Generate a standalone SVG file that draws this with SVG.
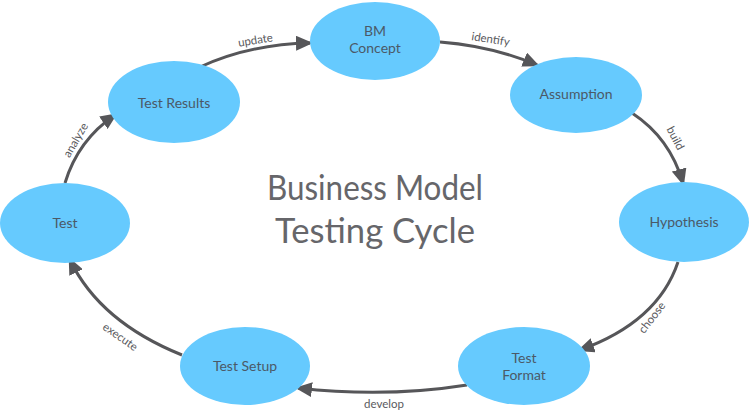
<svg xmlns="http://www.w3.org/2000/svg" width="750" height="419" viewBox="0 0 750 419">
<style>
.node ellipse{fill:#66CAFE;}
.node text{font-family:Lato,"Open Sans",sans-serif;font-size:14px;fill:#4B5967;text-anchor:middle;}
.conn path{fill:none;stroke:#565659;stroke-width:3;marker-end:url(#ah);}
.lbl{font-family:Lato,"Open Sans",sans-serif;font-size:11.5px;fill:#5A5A5E;text-anchor:middle;}
.title{font-family:Lato,"Open Sans",sans-serif;font-size:35px;fill:#66666A;text-anchor:middle;}
</style>
<defs>
<marker id="ah" markerUnits="userSpaceOnUse" markerWidth="17" markerHeight="15" refX="14" refY="7.5" orient="auto">
<path d="M0,0 L17,7.5 L0,15 z" fill="#565659"/>
</marker>
</defs>
<rect width="750" height="419" fill="#ffffff"/>
<g id="connectors" class="conn">
<path d="M200,67 Q250,44 310,43"/>
<path d="M440,42 Q492,46 537,65"/>
<path d="M632,113 Q670,138 683,183"/>
<path d="M678,262 Q658,322 580,350"/>
<path d="M467,385 Q385,398 298,388"/>
<path d="M182,355 Q100,322 70,260"/>
<path d="M65,183 Q78,140 115,115"/>
</g>
<g id="labels">
<text class="lbl" transform="translate(256,44) rotate(-9)">update</text>
<text class="lbl" transform="translate(490,43) rotate(9)">identify</text>
<text class="lbl" transform="translate(672,140) rotate(62)">build</text>
<text class="lbl" transform="translate(655,320) rotate(-52)">choose</text>
<text class="lbl" x="384" y="408">develop</text>
<text class="lbl" transform="translate(118,340) rotate(35)">execute</text>
<text class="lbl" transform="translate(79,142) rotate(-60)">analyze</text>
</g>
<g id="bm" class="node"><ellipse cx="375" cy="41" rx="65" ry="39"/><text x="375" y="36">BM</text><text x="375" y="53">Concept</text></g>
<g id="assumption" class="node"><ellipse cx="576" cy="95" rx="66" ry="38"/><text x="576" y="99">Assumption</text></g>
<g id="hypothesis" class="node"><ellipse cx="684" cy="222" rx="65" ry="40"/><text x="684" y="227">Hypothesis</text></g>
<g id="testformat" class="node"><ellipse cx="524" cy="366" rx="66" ry="39"/><text x="524" y="363">Test</text><text x="524" y="380">Format</text></g>
<g id="testsetup" class="node"><ellipse cx="245" cy="366" rx="65" ry="39"/><text x="245" y="371">Test Setup</text></g>
<g id="test" class="node"><ellipse cx="65" cy="223" rx="65" ry="40"/><text x="65" y="228">Test</text></g>
<g id="testresults" class="node"><ellipse cx="174" cy="102" rx="66" ry="41"/><text x="174" y="108">Test Results</text></g>
<g id="title">
<text class="title" x="375" y="200" textLength="216" lengthAdjust="spacingAndGlyphs">Business Model</text>
<text class="title" x="375" y="243" textLength="200" lengthAdjust="spacingAndGlyphs">Testing Cycle</text>
</g>
</svg>
